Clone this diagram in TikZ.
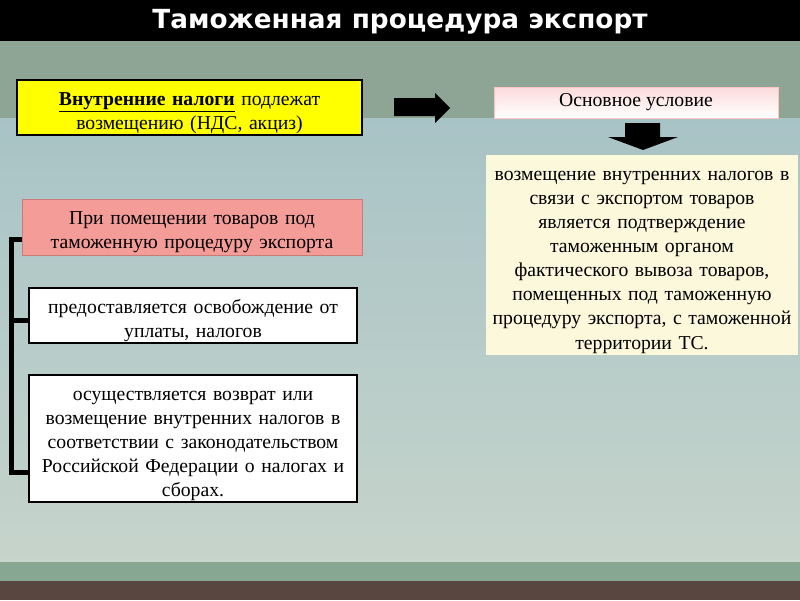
\documentclass[tikz,border=0pt]{standalone}
\usepackage{fontspec}
\setmainfont{Liberation Serif}
\newfontfamily\titlefont{DejaVu Sans}
\usetikzlibrary{calc}
\definecolor{bgband}{HTML}{8EA494}
\definecolor{bgblue}{HTML}{A8C3C6}
\definecolor{bglight}{HTML}{C6D4CB}
\definecolor{bgbottom}{HTML}{88A793}
\definecolor{bgbrown}{HTML}{5A4640}
\definecolor{yellowbox}{HTML}{FFFF00}
\definecolor{pinktop}{HTML}{FBDADA}
\definecolor{redbox}{HTML}{F49C98}
\definecolor{redborder}{HTML}{C87C78}
\definecolor{creambox}{HTML}{FCF8DC}
\tikzset{
  boxtext/.style={align=center, font=\fontsize{14}{17.1}\selectfont, inner sep=0pt,
    execute at begin node={\rule{0pt}{17pt}}},
  yellowstyle/.style={boxtext, draw=black, line width=1.2pt, fill=yellowbox},
  whitestyle/.style={boxtext, draw=black, line width=1.4pt, fill=white},
  redstyle/.style={boxtext, draw=redborder, line width=0.6pt, fill=redbox},
  pinkstyle/.style={align=center, font=\fontsize{14}{17.1}\selectfont, inner sep=0pt, draw=pinktop!70!red!60!white, line width=0.5pt, top color=pinktop, bottom color=white},
  creamstyle/.style={boxtext, fill=creambox},
  bracket/.style={line width=3pt, draw=black},
  blockarrow/.style={fill=black, draw=none}
}
\begin{document}
\begin{tikzpicture}[x=0.025cm, y=-0.025cm]
\useasboundingbox (0,0) rectangle (800,600);
% background
\fill[bgblue] (0,0) rectangle (800,600);
\shade[top color=bgblue, bottom color=bglight] (0,118) rectangle (800,562);
\fill[bgband] (0,41) rectangle (800,118);
\fill[bgbottom] (0,562) rectangle (800,581);
\fill[bgbrown] (0,581) rectangle (800,600);
\fill[black] (0,0) rectangle (800,41);
\node[text=white, font=\titlefont\bfseries\fontsize{18.7}{22}\selectfont, inner sep=0pt, anchor=base] (title) at (400,28.5) {Таможенная процедура экспорт};
% boxes
\node[yellowstyle, minimum width=345*0.025cm, minimum height=55*0.025cm, text width=330*0.025cm] (tax) at (189.5,107.5)
  {\underline{\textbf{Внутренние налоги}} подлежат\\ возмещению (НДС, акциз)};
\node[pinkstyle, minimum width=284*0.025cm, minimum height=31*0.025cm] (cond) at (636,102.5) {Основное условие};
\node[creamstyle, minimum width=312*0.025cm, minimum height=200*0.025cm, text width=305*0.025cm] (main) at (642,255)
  {возмещение внутренних налогов в\\ связи с экспортом товаров\\ является подтверждение\\ таможенным органом\\ фактического вывоза товаров,\\ помещенных под таможенную\\ процедуру экспорта, с таможенной\\ территории ТС.};
\node[redstyle, minimum width=340*0.025cm, minimum height=56*0.025cm, text width=330*0.025cm] (place) at (192,227)
  {При помещении товаров под\\ таможенную процедуру экспорта};
\node[whitestyle, minimum width=328*0.025cm, minimum height=55*0.025cm, text width=320*0.025cm] (free) at (193,315.5)
  {предоставляется освобождение от\\ уплаты, налогов};
\node[whitestyle, minimum width=328*0.025cm, minimum height=127*0.025cm, text width=320*0.025cm] (refund) at (193,438.5)
  {осуществляется возврат или\\ возмещение внутренних налогов в\\ соответствии с законодательством\\ Российской Федерации о налогах и\\ сборах.};
% block arrows
\coordinate (ra) at (394,108);
\coordinate (da) at (643,123);
\fill[blockarrow] (ra) ++(0,-10) -- ++(41,0) -- ++(0,-5) -- (450,108) -- (435,123) -- (435,116) -- (394,116) -- cycle;
\fill[blockarrow] (da) ++(-18,0) -- ++(35,0) -- ++(0,14) -- ++(18,0) -- (643,150) -- (608,137) -- (625,137) -- cycle;
% bracket
\coordinate (bx) at (11.5,0);
\draw[bracket] ($(place.west)+(0,12.5)$) -- ($(bx |- place.west)+(0,12.5)$) -- ($(bx |- refund.west)+(0,34)$) -- ($(refund.west)+(0,34)$);
\draw[bracket] ($(bx |- free.west)+(0,5)$) -- ($(free.west)+(0,5)$);
\end{tikzpicture}
\end{document}
